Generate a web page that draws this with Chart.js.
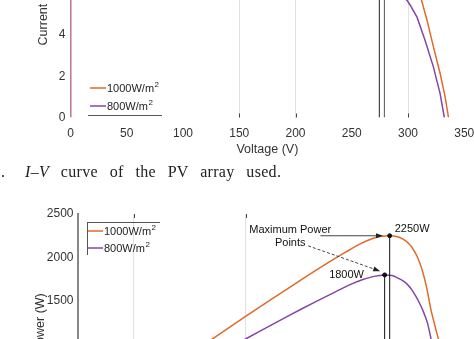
<!DOCTYPE html>
<html>
<head>
<meta charset="utf-8">
<script src="https://cdn.jsdelivr.net/npm/chart.js@4.4.0/dist/chart.umd.min.js"></script>
<style>
html, body { margin: 0; padding: 0; background: #fff; }
#page { position: relative; width: 474px; height: 339px; overflow: hidden; background: #fff; }
.cap { position: absolute; font-family: "Liberation Serif", "Times New Roman", serif; font-size: 16px; line-height: 16px; color: #222; white-space: nowrap; }
</style>
</head>
<body>
<div id="page">
  <canvas id="ivChart" width="474" height="280" style="position:absolute;left:0;top:-110px"></canvas>
  <div class="cap" style="left:1px;top:164px">.</div>
  <div class="cap" style="left:25px;top:164px;word-spacing:7.5px;letter-spacing:0.3px"><i>I</i>–<i>V</i> curve of the PV array used.</div>
  <canvas id="pvChart" width="474" height="290" style="position:absolute;left:0;top:200px"></canvas>
</div>
<script>
// I-V curves (top plot). above ~5.7 A the picture is cut off, those values are estimated
var iv_V1000 = [0, 0, 25, 50, 75, 100, 125, 150, 175, 200, 225, 250, 265, 279, 290, 300, 306, 312, 317, 322.5, 328.5, 333, 336];
var iv_I1000 = [0, 8.9, 8.9, 8.89, 8.88, 8.87, 8.85, 8.82, 8.78, 8.72, 8.6, 8.4, 8.25, 8.06, 7.6, 6.95, 6.45, 5.7, 4.7, 3.45, 2.15, 1.0, 0];
var iv_V800 = [0, 0, 25, 50, 75, 100, 125, 150, 175, 200, 225, 250, 265, 274.5, 285, 293, 299, 302, 308, 315, 322.5, 328.5, 332.3];
var iv_I800 = [0, 7.12, 7.12, 7.11, 7.11, 7.1, 7.09, 7.08, 7.06, 7.03, 6.98, 6.85, 6.72, 6.56, 6.3, 6.0, 5.7, 5.45, 4.87, 3.77, 2.47, 1.17, 0];

// P-V curves (bottom plot)
var pv_V1000 = [0, 25, 50, 75, 100, 125, 150, 175, 200, 225, 240, 253, 265, 272, 279, 286, 291, 296, 300, 304, 308, 312, 316, 320, 324, 328, 332, 336];
var pv_P1000 = [0, 222, 444, 665, 885, 1105, 1322, 1535, 1745, 1950, 2065, 2160, 2225, 2245, 2250, 2238, 2210, 2160, 2095, 2000, 1860, 1660, 1395, 1190, 990, 650, 300, 0];
var pv_V800 = [0, 25, 50, 75, 100, 125, 150, 175, 200, 225, 242, 255, 265, 274.5, 281, 286, 291, 295, 299, 302.5, 305.5, 308.5, 311, 313, 316, 319, 323, 327, 332];
var pv_P800 = [0, 178, 355, 533, 710, 887, 1063, 1237, 1408, 1570, 1680, 1748, 1783, 1800, 1792, 1766, 1730, 1688, 1625, 1552, 1480, 1398, 1315, 1240, 1065, 870, 590, 300, 0];

// maximum power points
var mpp_V = [279, 274.5];
var mpp_P = [2250, 1800];

var seriesNames = ['1000W/m²', '800W/m²'];
var xTicks = [0, 50, 100, 150, 200, 250, 300, 350];

var col1000 = '#e06a2a';
var col800 = '#8446a8';
var txtCol = '#333';

Chart.defaults.font.family = '"Liberation Sans", Arial, sans-serif';
Chart.defaults.color = txtCol;

function xy(xs, ys) {
    return xs.map(function (x, i) { return {x: x, y: ys[i]}; });
}

function plainNum(v) { return String(v); }

// keep the plot box exactly where layout.padding puts it
function fixX(h) {
    return function (s) { s.height = h; s.paddingLeft = 0; s.paddingRight = 0; };
}
function fixY(w) {
    return function (s) { s.width = w; s.paddingTop = 0; s.paddingBottom = 0; };
}

// small dark tick marks inside the plot box
var innerTicks = {
    id: 'innerTicks',
    afterDatasetsDraw: function (chart, args, opts) {
        var ctx = chart.ctx, a = chart.chartArea, xs = chart.scales.x;
        ctx.save();
        ctx.strokeStyle = '#444';
        ctx.lineWidth = 1;
        opts.values.forEach(function (v) {
            var px = Math.round(xs.getPixelForValue(v)) + 0.5;
            var y0 = opts.side == 'top' ? a.top : a.bottom;
            var y1 = opts.side == 'top' ? y0 + 4 : y0 - 4;
            ctx.beginPath(); ctx.moveTo(px, y0); ctx.lineTo(px, y1); ctx.stroke();
        });
        ctx.restore();
    }
};

// legend drawn inside the plot, matlab style
var boxLegend = {
    id: 'boxLegend',
    afterDraw: function (chart, args, opts) {
        var ctx = chart.ctx;
        var items = chart.data.datasets.filter(function (d) { return d.inLegend; });
        items.sort(function (a, b) { return a.inLegend - b.inLegend; });
        ctx.save();
        ctx.textBaseline = 'middle';
        items.forEach(function (d, i) {
            var y = opts.y + i * opts.gap;
            ctx.strokeStyle = d.borderColor;
            ctx.lineWidth = 1.5;
            ctx.beginPath(); ctx.moveTo(opts.x, y); ctx.lineTo(opts.x + opts.len, y); ctx.stroke();
            ctx.fillStyle = '#222';
            var base = d.label.replace('²', '');
            ctx.font = '11px "Liberation Sans", Arial, sans-serif';
            ctx.fillText(base, opts.x + opts.len + 1, y + 1);
            var w = ctx.measureText(base).width;
            ctx.font = '8px "Liberation Sans", Arial, sans-serif';
            ctx.fillText('2', opts.x + opts.len + 1.5 + w, y - 3);
        });
        ctx.strokeStyle = '#555';
        ctx.lineWidth = 1;
        opts.edges.forEach(function (e) {
            ctx.beginPath(); ctx.moveTo(e[0], e[1]); ctx.lineTo(e[2], e[3]); ctx.stroke();
        });
        ctx.restore();
    }
};

function arrow(ctx, x0, y0, x1, y1, dash) {
    var ang = Math.atan2(y1 - y0, x1 - x0);
    ctx.setLineDash(dash);
    ctx.beginPath(); ctx.moveTo(x0, y0); ctx.lineTo(x1 - 5 * Math.cos(ang), y1 - 5 * Math.sin(ang)); ctx.stroke();
    ctx.setLineDash([]);
    ctx.beginPath();
    ctx.moveTo(x1, y1);
    ctx.lineTo(x1 - 7 * Math.cos(ang) + 2.5 * Math.sin(ang), y1 - 7 * Math.sin(ang) - 2.5 * Math.cos(ang));
    ctx.lineTo(x1 - 7 * Math.cos(ang) - 2.5 * Math.sin(ang), y1 - 7 * Math.sin(ang) + 2.5 * Math.cos(ang));
    ctx.closePath();
    ctx.fill();
}

// "Maximum Power Points" note with arrows, positions in (V, W)
var mppNotes = {
    id: 'mppNotes',
    afterDatasetsDraw: function (chart) {
        var ctx = chart.ctx, x = chart.scales.x, y = chart.scales.y;
        function px(v) { return x.getPixelForValue(v); }
        function py(p) { return y.getPixelForValue(p); }
        ctx.save();
        ctx.font = '11px "Liberation Sans", Arial, sans-serif';
        ctx.fillStyle = '#111';
        ctx.textBaseline = 'middle';
        ctx.textAlign = 'center';
        ctx.fillText('Maximum Power', px(190), py(2322));
        ctx.fillText('Points', px(190), py(2168));
        ctx.textAlign = 'left';
        ctx.fillText(mpp_P[0] + 'W', px(283.5), py(2331));
        ctx.textAlign = 'right';
        ctx.fillText(mpp_P[1] + 'W', px(256), py(1797));
        ctx.strokeStyle = '#444';
        ctx.fillStyle = '#222';
        ctx.lineWidth = 1;
        arrow(ctx, px(217), py(2250), px(273), py(2250), []);
        arrow(ctx, px(206), py(2134), px(270.5), py(1843), [3, 2]);
        ctx.restore();
    }
};

function gridColor(shown) {
    return function (c) { return shown.indexOf(c.tick.value) >= 0 ? '#e2e2e2' : 'rgba(0,0,0,0)'; };
}

var ivChart = new Chart(document.getElementById('ivChart'), {
    type: 'line',
    data: {
        datasets: [
            { label: seriesNames[1], data: xy(iv_V800, iv_I800), borderColor: col800, borderWidth: 1.5, pointRadius: 0, tension: 0, order: 1, inLegend: 2 },
            { label: seriesNames[0], data: xy(iv_V1000, iv_I1000), borderColor: col1000, borderWidth: 1.5, pointRadius: 0, tension: 0, order: 2, inLegend: 1 },
            { data: xy([mpp_V[1], mpp_V[1]], [0, 10]), borderColor: '#222', borderWidth: 1, pointRadius: 0, order: 3 },
            { data: xy([mpp_V[0], mpp_V[0]], [0, 10]), borderColor: '#555', borderWidth: 1, pointRadius: 0, order: 3 }
        ]
    },
    options: {
        responsive: false,
        devicePixelRatio: 1,
        animation: false,
        layout: { padding: { top: 21.5, right: 9.75, left: 0, bottom: 0 } },
        plugins: {
            legend: { display: false },
            tooltip: { enabled: false },
            innerTicks: { values: [150, 200, 300], side: 'bottom' },
            boxLegend: { x: 90, y: 198, gap: 18, len: 16, edges: [[88, 225.5, 162, 225.5]] }
        },
        scales: {
            x: {
                type: 'linear', min: 0, max: 350,
                afterBuildTicks: function (s) { s.ticks = xTicks.map(function (v) { return {value: v}; }); },
                afterFit: fixX(52.5),
                ticks: { font: { size: 12 }, padding: 8.5, color: txtCol, callback: plainNum },
                grid: { drawTicks: false, color: gridColor([150, 200, 300]) },
                border: { display: false },
                title: { display: true, text: 'Voltage (V)', font: { size: 12.5 }, color: txtCol, padding: { top: 0, bottom: 13 } }
            },
            y: {
                min: 0, max: 10,
                afterFit: fixY(70.5),
                ticks: { stepSize: 2, font: { size: 12 }, padding: 5, color: txtCol, callback: plainNum },
                grid: { display: false, drawTicks: false },
                border: { display: false },
                title: { display: true, text: 'Current (A)', font: { size: 12.5 }, color: txtCol, padding: { top: 36, bottom: 0 } }
            }
        }
    },
    plugins: [innerTicks, boxLegend]
});

var pvChart = new Chart(document.getElementById('pvChart'), {
    type: 'line',
    data: {
        datasets: [
            { data: xy(mpp_V, mpp_P), showLine: false, pointRadius: 2, pointBackgroundColor: '#111', pointBorderColor: '#111', order: 0 },
            { label: seriesNames[0], data: xy(pv_V1000, pv_P1000), borderColor: col1000, borderWidth: 1.5, pointRadius: 0, tension: 0.2, order: 2, inLegend: 1 },
            { label: seriesNames[1], data: xy(pv_V800, pv_P800), borderColor: col800, borderWidth: 1.5, pointRadius: 0, tension: 0.2, order: 2, inLegend: 2 },
            { data: xy([mpp_V[0], mpp_V[0]], [0, mpp_P[0]]), borderColor: '#111', borderWidth: 1, pointRadius: 0, order: 1 },
            { data: xy([mpp_V[1], mpp_V[1]], [0, mpp_P[1]]), borderColor: '#111', borderWidth: 1, pointRadius: 0, order: 1 }
        ]
    },
    options: {
        responsive: false,
        devicePixelRatio: 1,
        animation: false,
        layout: { padding: { top: 14, right: 2.25, left: 0, bottom: 0 } },
        plugins: {
            legend: { display: false },
            tooltip: { enabled: false },
            innerTicks: { values: [50, 150], side: 'top' },
            boxLegend: { x: 88, y: 31, gap: 17, len: 15, edges: [[87, 22.5, 160, 22.5], [87.5, 22, 87.5, 55]] }
        },
        scales: {
            x: {
                type: 'linear', min: 0, max: 350,
                afterBuildTicks: function (s) { s.ticks = xTicks.map(function (v) { return {value: v}; }); },
                afterFit: fixX(58.5),
                ticks: { font: { size: 12 }, padding: 8.5, color: txtCol, callback: plainNum },
                grid: { drawTicks: false, color: gridColor([50, 150]) },
                border: { display: false },
                title: { display: true, text: 'Voltage (V)', font: { size: 12.5 }, color: txtCol, padding: { top: 0, bottom: 18 } }
            },
            y: {
                min: 0, max: 2500,
                afterFit: fixY(78),
                ticks: { stepSize: 500, font: { size: 12 }, padding: 4.5, color: txtCol, callback: plainNum },
                grid: { drawOnChartArea: false, drawTicks: false },
                border: { display: true, color: '#888', width: 2 },
                title: { display: true, text: 'Power (W)', font: { size: 12.5 }, color: txtCol, padding: { top: 33, bottom: 0 } }
            }
        }
    },
    plugins: [innerTicks, boxLegend, mppNotes]
});
</script>
</body>
</html>
